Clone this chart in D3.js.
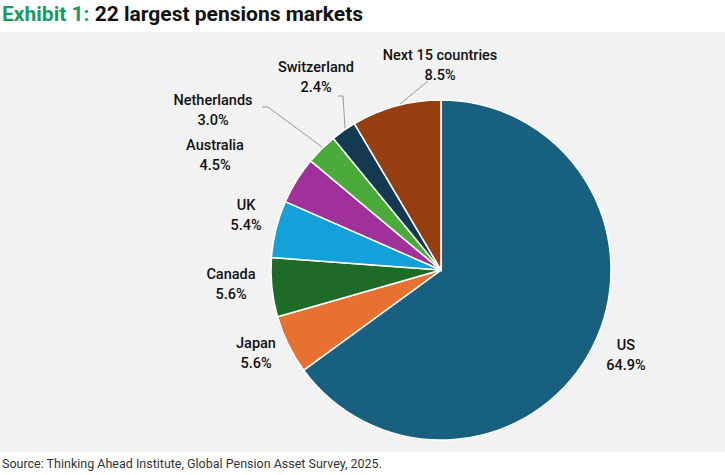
<!DOCTYPE html>
<html><head><meta charset="utf-8">
<script src="https://cdn.jsdelivr.net/npm/d3@7"></script>
<style>body{margin:0;background:#fff;font-family:Roboto,sans-serif}</style>
</head><body><div id="chart"></div>
<script>
const countries = ['US','Japan','Canada','UK','Australia','Netherlands','Switzerland','Next 15 countries'];
const shares = [64.9,5.6,5.6,5.4,4.5,3.0,2.4,8.5];
const colors = ['#17607f','#e87030','#1e6b28','#14a0d8','#a0309a','#4aaa3a','#143a52','#963e10'];
// label anchor positions and leader lines (layout only)
const labelPos = [[626,350],[256,348],[231,279],[246,210],[215,150],[213,105],[316,72],[440,60]];
const leaders = {5:[[262,107],[268,107],[322,147]],6:[[338,96],[343,96],[345,128]],7:[[428,81],[400,104]]};

const W = 725, H = 475, cx = 441, cy = 270, R = 170;
const svg = d3.select('#chart').append('svg').attr('width', W).attr('height', H);
svg.append('rect').attr('x',0).attr('y',32).attr('width',W).attr('height',420).attr('fill','#f2f2f2');

const title = svg.append('text').attr('x',2).attr('y',21).attr('font-size',21).attr('font-weight',700);
title.append('tspan').attr('fill','#1a9a63').text('Exhibit 1: ');
title.append('tspan').attr('fill','#111').text('22 largest pensions markets');

const pie = d3.pie().sort(null).value(d => d);
const arc = d3.arc().innerRadius(0).outerRadius(R);
const g = svg.append('g').attr('transform', `translate(${cx},${cy})`);
g.selectAll('path').data(pie(shares)).enter().append('path')
  .attr('d', arc).attr('fill', (d,i) => colors[i]).attr('stroke','#fff').attr('stroke-width',1.5);

Object.keys(leaders).forEach(k => {
  svg.append('path').attr('d', d3.line()(leaders[k])).attr('fill','none').attr('stroke','#999').attr('stroke-width',1);
});

countries.forEach((c,i) => {
  const t = svg.append('text').attr('text-anchor','middle').attr('font-size',14.5).attr('font-weight',500).attr('fill','#111');
  t.append('tspan').attr('x',labelPos[i][0]).attr('y',labelPos[i][1]).text(c);
  t.append('tspan').attr('x',labelPos[i][0]).attr('y',labelPos[i][1]+20).text(shares[i].toFixed(1)+'%');
});

svg.append('text').attr('x',2).attr('y',468).attr('font-size',12.5).attr('fill','#333')
  .text('Source: Thinking Ahead Institute, Global Pension Asset Survey, 2025.');
</script></body></html>
